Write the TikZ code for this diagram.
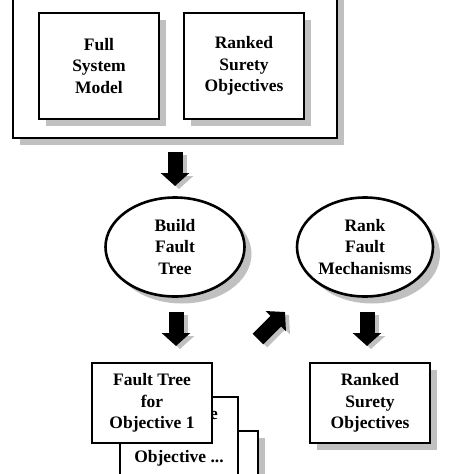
\documentclass[tikz,border=0pt]{standalone}
\usepackage{fontspec}
\setmainfont{Liberation Serif}
\usetikzlibrary{shadows,shapes.geometric,arrows.meta}
\definecolor{shadowgray}{RGB}{192,192,192}
\tikzset{
  lbl/.style={font=\fontsize{17.5}{21.5}\selectfont\bfseries, align=center, inner sep=0pt},
  shd/.style={drop shadow={shadow xshift=7pt, shadow yshift=-7pt, fill=shadowgray, opacity=1}},
  plainbox/.style={lbl, draw=black, line width=2.6pt, fill=white, rectangle},
  box/.style={plainbox, shd},
  oval/.style={lbl, draw=black, line width=2.6pt, fill=white, ellipse, shd},
  barrow/.style={line width=15pt, -{Triangle[width=28pt,length=13pt]}},
  barrowshadow/.style={barrow, draw=shadowgray, transform canvas={shift={(4pt,-3pt)}}},
}
\begin{document}
\begin{tikzpicture}[x=1pt,y=-1pt]
\useasboundingbox (0,0) rectangle (474,474);
\clip (0,0) rectangle (474,474);
% top container
\node (sys) [box, minimum width=324pt, minimum height=170pt] at (175,53) {};
\node (fsm) [box, minimum width=120pt, minimum height=106pt] at (99,66) {Full\\System\\Model};
\node (rso) [box, minimum width=120pt, minimum height=106pt] at (244,66) {Ranked\\Surety\\Objectives};
% ellipses
\node (bft) [oval, minimum width=139pt, minimum height=99pt] at (175,247) {Build\\Fault\\Tree};
\node (rfm) [oval, minimum width=136pt, minimum height=99pt] at (365,247) {Rank\\Fault\\Mechanisms};
% bottom boxes
\node (ft3) [box, minimum width=118pt, minimum height=80pt] at (199,471) {};
\node (ft2) [plainbox, minimum width=118pt, minimum height=80pt] at (179,437) {Fault Tree\\for\\Objective ...};
\node (ft1) [plainbox, minimum width=120pt, minimum height=80pt] at (152,403) {Fault Tree\\for\\Objective 1};
\node (rso2) [box, minimum width=120pt, minimum height=80pt] at (370,403) {Ranked\\Surety\\Objectives};
% arrow endpoints
\coordinate (a1s) at (175,152); \coordinate (a1e) at (175,186);
\coordinate (a2s) at (176,312); \coordinate (a2e) at (176,346);
\coordinate (a3s) at (367,312); \coordinate (a3e) at (367,346);
\coordinate (a4s) at (258,339); \coordinate (a4e) at (285,312);
% arrow shadows
\foreach \s/\e in {a1s/a1e,a2s/a2e,a3s/a3e,a4s/a4e}
  \draw[barrowshadow] (\s) -- (\e);
% arrows
\foreach \s/\e in {a1s/a1e,a2s/a2e,a3s/a3e,a4s/a4e}
  \draw[barrow] (\s) -- (\e);
\end{tikzpicture}
\end{document}
